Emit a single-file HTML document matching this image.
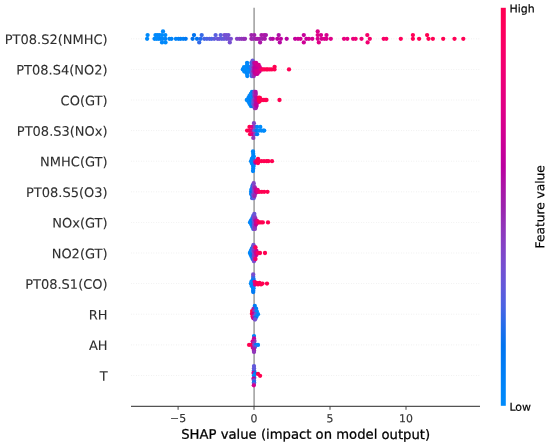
<!DOCTYPE html>
<html lang="en"><head><meta charset="utf-8"><title>SHAP summary plot</title>
<style>html,body{margin:0;padding:0;background:#fff}svg{display:block}text{font-family:"DejaVu Sans","Liberation Sans",sans-serif;text-rendering:geometricPrecision}</style></head><body>
<svg width="550" height="445" viewBox="0 0 550 445">
<defs><linearGradient id="cb" x1="0" y1="1" x2="0" y2="0">
<stop offset="0.00" stop-color="#008bfb"/>
<stop offset="0.05" stop-color="#0084f9"/>
<stop offset="0.10" stop-color="#007cf5"/>
<stop offset="0.15" stop-color="#0074f0"/>
<stop offset="0.20" stop-color="#236cea"/>
<stop offset="0.25" stop-color="#4b63e3"/>
<stop offset="0.30" stop-color="#6359da"/>
<stop offset="0.35" stop-color="#754fd1"/>
<stop offset="0.40" stop-color="#8443c6"/>
<stop offset="0.45" stop-color="#9135ba"/>
<stop offset="0.50" stop-color="#9b23ad"/>
<stop offset="0.55" stop-color="#ab15a7"/>
<stop offset="0.60" stop-color="#bb00a0"/>
<stop offset="0.65" stop-color="#c80098"/>
<stop offset="0.70" stop-color="#d5008f"/>
<stop offset="0.75" stop-color="#e00086"/>
<stop offset="0.80" stop-color="#e9007c"/>
<stop offset="0.85" stop-color="#f20072"/>
<stop offset="0.90" stop-color="#f90067"/>
<stop offset="0.95" stop-color="#fe005c"/>
<stop offset="1.00" stop-color="#ff0051"/>
</linearGradient></defs>
<rect width="550" height="445" fill="#fff"/>
<line x1="254.1" y1="7.8" x2="254.1" y2="406" stroke="#999" stroke-width="1.45"/>
<line x1="131" y1="38.8" x2="480" y2="38.8" stroke="#ccc" stroke-width="0.8" stroke-dasharray="0.7 1.8" opacity="0.5"/>
<line x1="131" y1="69.4" x2="480" y2="69.4" stroke="#ccc" stroke-width="0.8" stroke-dasharray="0.7 1.8" opacity="0.5"/>
<line x1="131" y1="100.0" x2="480" y2="100.0" stroke="#ccc" stroke-width="0.8" stroke-dasharray="0.7 1.8" opacity="0.5"/>
<line x1="131" y1="130.6" x2="480" y2="130.6" stroke="#ccc" stroke-width="0.8" stroke-dasharray="0.7 1.8" opacity="0.5"/>
<line x1="131" y1="161.2" x2="480" y2="161.2" stroke="#ccc" stroke-width="0.8" stroke-dasharray="0.7 1.8" opacity="0.5"/>
<line x1="131" y1="191.8" x2="480" y2="191.8" stroke="#ccc" stroke-width="0.8" stroke-dasharray="0.7 1.8" opacity="0.5"/>
<line x1="131" y1="222.4" x2="480" y2="222.4" stroke="#ccc" stroke-width="0.8" stroke-dasharray="0.7 1.8" opacity="0.5"/>
<line x1="131" y1="253.0" x2="480" y2="253.0" stroke="#ccc" stroke-width="0.8" stroke-dasharray="0.7 1.8" opacity="0.5"/>
<line x1="131" y1="283.6" x2="480" y2="283.6" stroke="#ccc" stroke-width="0.8" stroke-dasharray="0.7 1.8" opacity="0.5"/>
<line x1="131" y1="314.2" x2="480" y2="314.2" stroke="#ccc" stroke-width="0.8" stroke-dasharray="0.7 1.8" opacity="0.5"/>
<line x1="131" y1="344.9" x2="480" y2="344.9" stroke="#ccc" stroke-width="0.8" stroke-dasharray="0.7 1.8" opacity="0.5"/>
<line x1="131" y1="375.5" x2="480" y2="375.5" stroke="#ccc" stroke-width="0.8" stroke-dasharray="0.7 1.8" opacity="0.5"/>
<g>
<circle cx="147.6" cy="35.1" r="2.15" fill="#008bfb"/>
<circle cx="147.1" cy="38.8" r="2.15" fill="#008afb"/>
<circle cx="155.5" cy="35.1" r="2.15" fill="#008afb"/>
<circle cx="157.5" cy="35.1" r="2.15" fill="#0088fa"/>
<circle cx="159.5" cy="35.1" r="2.15" fill="#0087fa"/>
<circle cx="162.0" cy="35.1" r="2.15" fill="#008bfb"/>
<circle cx="165.3" cy="35.1" r="2.15" fill="#008bfb"/>
<circle cx="154.5" cy="38.8" r="2.15" fill="#0086fa"/>
<circle cx="156.5" cy="38.8" r="2.15" fill="#008bfb"/>
<circle cx="158.5" cy="38.8" r="2.15" fill="#008afb"/>
<circle cx="160.5" cy="38.8" r="2.15" fill="#0084f9"/>
<circle cx="162.5" cy="38.8" r="2.15" fill="#0088fa"/>
<circle cx="165.3" cy="38.8" r="2.15" fill="#0084f9"/>
<circle cx="163.0" cy="31.4" r="2.15" fill="#0088fa"/>
<circle cx="162.0" cy="42.4" r="2.15" fill="#0086fa"/>
<circle cx="165.5" cy="42.4" r="2.15" fill="#008afb"/>
<circle cx="169.4" cy="38.8" r="2.15" fill="#0085f9"/>
<circle cx="171.5" cy="38.8" r="2.15" fill="#0083f8"/>
<circle cx="175.9" cy="38.8" r="2.15" fill="#0084f9"/>
<circle cx="178.5" cy="38.8" r="2.15" fill="#0080f7"/>
<circle cx="180.6" cy="38.8" r="2.15" fill="#007ef6"/>
<circle cx="183.2" cy="38.8" r="2.15" fill="#0081f7"/>
<circle cx="185.7" cy="38.8" r="2.15" fill="#0078f3"/>
<circle cx="192.6" cy="38.8" r="2.15" fill="#0073ef"/>
<circle cx="194.0" cy="35.1" r="2.15" fill="#0074f0"/>
<circle cx="197.0" cy="38.8" r="2.15" fill="#0074f0"/>
<circle cx="199.2" cy="42.4" r="2.15" fill="#326ae8"/>
<circle cx="200.6" cy="38.8" r="2.15" fill="#216ceb"/>
<circle cx="201.7" cy="35.1" r="2.15" fill="#3669e8"/>
<circle cx="204.3" cy="38.8" r="2.15" fill="#4664e4"/>
<circle cx="206.9" cy="38.8" r="2.15" fill="#4964e4"/>
<circle cx="209.5" cy="38.8" r="2.15" fill="#575fdf"/>
<circle cx="211.6" cy="38.8" r="2.15" fill="#4c63e3"/>
<circle cx="214.2" cy="38.8" r="2.15" fill="#5f5bdc"/>
<circle cx="215.6" cy="35.1" r="2.15" fill="#585edf"/>
<circle cx="217.5" cy="38.8" r="2.15" fill="#6956d7"/>
<circle cx="219.3" cy="38.8" r="2.15" fill="#6b55d6"/>
<circle cx="220.7" cy="35.1" r="2.15" fill="#5b5ddd"/>
<circle cx="221.8" cy="38.8" r="2.15" fill="#5f5bdc"/>
<circle cx="224.0" cy="38.8" r="2.15" fill="#6658d9"/>
<circle cx="224.4" cy="35.1" r="2.15" fill="#774ed0"/>
<circle cx="226.5" cy="38.8" r="2.15" fill="#7052d4"/>
<circle cx="226.2" cy="35.1" r="2.15" fill="#7350d2"/>
<circle cx="228.4" cy="35.1" r="2.15" fill="#7151d3"/>
<circle cx="228.7" cy="38.8" r="2.15" fill="#764ed0"/>
<circle cx="229.8" cy="42.4" r="2.15" fill="#754ed0"/>
<circle cx="230.9" cy="38.8" r="2.15" fill="#774dcf"/>
<circle cx="237.0" cy="38.8" r="2.15" fill="#8641c4"/>
<circle cx="239.3" cy="38.8" r="2.15" fill="#893ec1"/>
<circle cx="241.5" cy="38.8" r="2.15" fill="#9134b9"/>
<circle cx="243.5" cy="38.8" r="2.15" fill="#9035ba"/>
<circle cx="245.0" cy="38.8" r="2.15" fill="#962db4"/>
<circle cx="251.4" cy="35.1" r="2.15" fill="#9d22ac"/>
<circle cx="251.4" cy="38.8" r="2.15" fill="#a020ab"/>
<circle cx="254.3" cy="35.1" r="2.15" fill="#9f20ab"/>
<circle cx="253.2" cy="38.8" r="2.15" fill="#962db3"/>
<circle cx="256.1" cy="38.8" r="2.15" fill="#a51ca9"/>
<circle cx="257.9" cy="38.8" r="2.15" fill="#a918a8"/>
<circle cx="260.1" cy="42.4" r="2.15" fill="#aa17a7"/>
<circle cx="259.7" cy="38.8" r="2.15" fill="#a31daa"/>
<circle cx="261.5" cy="35.1" r="2.15" fill="#a819a8"/>
<circle cx="262.3" cy="38.8" r="2.15" fill="#9e21ac"/>
<circle cx="264.1" cy="35.1" r="2.15" fill="#ad14a6"/>
<circle cx="264.8" cy="38.8" r="2.15" fill="#a818a8"/>
<circle cx="265.9" cy="35.1" r="2.15" fill="#a41caa"/>
<circle cx="270.6" cy="38.8" r="2.15" fill="#a51ca9"/>
<circle cx="272.8" cy="38.8" r="2.15" fill="#b605a2"/>
<circle cx="277.3" cy="38.8" r="2.15" fill="#bd009e"/>
<circle cx="278.7" cy="35.1" r="2.15" fill="#ae12a6"/>
<circle cx="280.9" cy="38.8" r="2.15" fill="#bd009e"/>
<circle cx="279.8" cy="42.4" r="2.15" fill="#b507a2"/>
<circle cx="286.7" cy="38.8" r="2.15" fill="#b703a1"/>
<circle cx="295.1" cy="38.8" r="2.15" fill="#c1009c"/>
<circle cx="298.0" cy="38.8" r="2.15" fill="#cc0096"/>
<circle cx="300.5" cy="38.8" r="2.15" fill="#cf0093"/>
<circle cx="303.8" cy="35.1" r="2.15" fill="#c5009a"/>
<circle cx="303.8" cy="42.4" r="2.15" fill="#ce0094"/>
<circle cx="306.4" cy="38.8" r="2.15" fill="#c70098"/>
<circle cx="308.9" cy="38.8" r="2.15" fill="#d30090"/>
<circle cx="312.3" cy="38.8" r="2.15" fill="#d00092"/>
<circle cx="317.7" cy="31.4" r="2.15" fill="#dc0089"/>
<circle cx="317.7" cy="35.1" r="2.15" fill="#dd0088"/>
<circle cx="317.7" cy="38.8" r="2.15" fill="#d7008d"/>
<circle cx="318.8" cy="42.4" r="2.15" fill="#de0087"/>
<circle cx="321.0" cy="35.1" r="2.15" fill="#d6008e"/>
<circle cx="321.7" cy="38.8" r="2.15" fill="#d30090"/>
<circle cx="324.3" cy="38.8" r="2.15" fill="#dc0089"/>
<circle cx="326.5" cy="35.1" r="2.15" fill="#d6008e"/>
<circle cx="326.5" cy="38.8" r="2.15" fill="#d8008c"/>
<circle cx="330.8" cy="38.8" r="2.15" fill="#de0087"/>
<circle cx="344.0" cy="38.8" r="2.15" fill="#e8007d"/>
<circle cx="347.3" cy="38.8" r="2.15" fill="#e50081"/>
<circle cx="353.1" cy="38.8" r="2.15" fill="#e7007f"/>
<circle cx="355.6" cy="38.8" r="2.15" fill="#f10073"/>
<circle cx="361.5" cy="38.8" r="2.15" fill="#ee0076"/>
<circle cx="367.3" cy="35.1" r="2.15" fill="#f6006b"/>
<circle cx="369.8" cy="38.8" r="2.15" fill="#f7006a"/>
<circle cx="367.6" cy="42.4" r="2.15" fill="#f10072"/>
<circle cx="383.7" cy="38.8" r="2.15" fill="#f90067"/>
<circle cx="386.3" cy="38.8" r="2.15" fill="#fa0065"/>
<circle cx="400.8" cy="38.8" r="2.15" fill="#ff005a"/>
<circle cx="412.9" cy="35.1" r="2.15" fill="#ff0057"/>
<circle cx="412.9" cy="38.8" r="2.15" fill="#ff0058"/>
<circle cx="419.1" cy="38.8" r="2.15" fill="#ff0055"/>
<circle cx="427.1" cy="35.1" r="2.15" fill="#ff0051"/>
<circle cx="428.5" cy="38.8" r="2.15" fill="#ff0054"/>
<circle cx="432.9" cy="38.8" r="2.15" fill="#ff0054"/>
<circle cx="443.2" cy="38.8" r="2.15" fill="#ff0051"/>
<circle cx="454.5" cy="38.8" r="2.15" fill="#ff0055"/>
<circle cx="463.3" cy="38.8" r="2.15" fill="#ff0054"/>
<circle cx="242.8" cy="69.4" r="2.15" fill="#008afb"/>
<circle cx="244.3" cy="71.6" r="2.15" fill="#008bfb"/>
<circle cx="244.2" cy="69.4" r="2.15" fill="#0088fa"/>
<circle cx="244.0" cy="67.2" r="2.15" fill="#0088fa"/>
<circle cx="245.9" cy="71.6" r="2.15" fill="#008bfb"/>
<circle cx="245.9" cy="69.4" r="2.15" fill="#0089fa"/>
<circle cx="245.9" cy="67.2" r="2.15" fill="#008bfb"/>
<circle cx="247.3" cy="76.0" r="2.15" fill="#0085f9"/>
<circle cx="246.9" cy="73.8" r="2.15" fill="#008bfb"/>
<circle cx="247.3" cy="71.6" r="2.15" fill="#0082f8"/>
<circle cx="247.1" cy="69.4" r="2.15" fill="#0089fa"/>
<circle cx="247.3" cy="67.2" r="2.15" fill="#008bfb"/>
<circle cx="247.1" cy="65.0" r="2.15" fill="#008bfb"/>
<circle cx="247.1" cy="62.8" r="2.15" fill="#0087fa"/>
<circle cx="248.5" cy="71.6" r="2.15" fill="#0089fa"/>
<circle cx="248.8" cy="69.4" r="2.15" fill="#008bfb"/>
<circle cx="248.6" cy="67.2" r="2.15" fill="#0084f9"/>
<circle cx="250.3" cy="71.6" r="2.15" fill="#008afb"/>
<circle cx="250.6" cy="69.4" r="2.15" fill="#008afb"/>
<circle cx="250.2" cy="67.2" r="2.15" fill="#0087fa"/>
<circle cx="251.7" cy="76.0" r="2.15" fill="#2e6ae9"/>
<circle cx="251.5" cy="73.8" r="2.15" fill="#4166e6"/>
<circle cx="251.8" cy="71.6" r="2.15" fill="#4764e4"/>
<circle cx="251.8" cy="69.4" r="2.15" fill="#3469e8"/>
<circle cx="251.5" cy="67.2" r="2.15" fill="#5360e1"/>
<circle cx="251.8" cy="65.0" r="2.15" fill="#4864e4"/>
<circle cx="251.4" cy="62.8" r="2.15" fill="#306ae9"/>
<circle cx="252.7" cy="76.0" r="2.15" fill="#5e5cdc"/>
<circle cx="252.8" cy="73.8" r="2.15" fill="#764ed0"/>
<circle cx="252.5" cy="71.6" r="2.15" fill="#625adb"/>
<circle cx="252.8" cy="69.4" r="2.15" fill="#7052d4"/>
<circle cx="252.8" cy="67.2" r="2.15" fill="#6458da"/>
<circle cx="252.4" cy="65.0" r="2.15" fill="#6259db"/>
<circle cx="252.8" cy="62.8" r="2.15" fill="#615adb"/>
<circle cx="252.6" cy="60.6" r="2.15" fill="#6757d8"/>
<circle cx="253.8" cy="76.0" r="2.15" fill="#952eb4"/>
<circle cx="254.1" cy="73.8" r="2.15" fill="#9036bb"/>
<circle cx="253.5" cy="71.6" r="2.15" fill="#a31daa"/>
<circle cx="254.0" cy="69.4" r="2.15" fill="#a51ca9"/>
<circle cx="253.8" cy="67.2" r="2.15" fill="#a31daa"/>
<circle cx="254.1" cy="65.0" r="2.15" fill="#9134b9"/>
<circle cx="253.9" cy="62.8" r="2.15" fill="#a020ab"/>
<circle cx="255.1" cy="73.8" r="2.15" fill="#c1009c"/>
<circle cx="254.9" cy="71.6" r="2.15" fill="#bc009f"/>
<circle cx="254.8" cy="69.4" r="2.15" fill="#b409a3"/>
<circle cx="255.1" cy="67.2" r="2.15" fill="#ba00a0"/>
<circle cx="255.2" cy="65.0" r="2.15" fill="#b30ba3"/>
<circle cx="255.2" cy="62.8" r="2.15" fill="#c50099"/>
<circle cx="256.5" cy="73.8" r="2.15" fill="#d00093"/>
<circle cx="256.4" cy="71.6" r="2.15" fill="#c80098"/>
<circle cx="255.9" cy="69.4" r="2.15" fill="#cc0095"/>
<circle cx="256.0" cy="67.2" r="2.15" fill="#c0009c"/>
<circle cx="256.3" cy="65.0" r="2.15" fill="#c60099"/>
<circle cx="256.1" cy="62.8" r="2.15" fill="#d10092"/>
<circle cx="257.5" cy="73.8" r="2.15" fill="#c70099"/>
<circle cx="257.3" cy="71.6" r="2.15" fill="#d40090"/>
<circle cx="257.4" cy="69.4" r="2.15" fill="#d20091"/>
<circle cx="257.3" cy="67.2" r="2.15" fill="#c3009b"/>
<circle cx="257.4" cy="65.0" r="2.15" fill="#d30090"/>
<circle cx="258.4" cy="71.6" r="2.15" fill="#d7008d"/>
<circle cx="258.9" cy="69.4" r="2.15" fill="#d7008d"/>
<circle cx="258.8" cy="67.2" r="2.15" fill="#c3009b"/>
<circle cx="258.7" cy="65.0" r="2.15" fill="#d8008c"/>
<circle cx="259.5" cy="71.6" r="2.15" fill="#cf0093"/>
<circle cx="259.7" cy="69.4" r="2.15" fill="#d5008f"/>
<circle cx="259.8" cy="67.2" r="2.15" fill="#d4008f"/>
<circle cx="261.5" cy="69.4" r="2.15" fill="#f90067"/>
<circle cx="262.7" cy="69.4" r="2.15" fill="#ff0059"/>
<circle cx="264.3" cy="69.4" r="2.15" fill="#ff005b"/>
<circle cx="266.3" cy="69.4" r="2.15" fill="#ff0051"/>
<circle cx="267.8" cy="69.4" r="2.15" fill="#ff0051"/>
<circle cx="269.9" cy="69.4" r="2.15" fill="#ff0055"/>
<circle cx="271.9" cy="69.4" r="2.15" fill="#ff0051"/>
<circle cx="274.5" cy="69.4" r="2.15" fill="#ff0054"/>
<circle cx="289.0" cy="69.4" r="2.15" fill="#ff0055"/>
<circle cx="274.6" cy="66.8" r="2.15" fill="#ff0051"/>
<circle cx="246.8" cy="100.0" r="2.15" fill="#008afa"/>
<circle cx="248.7" cy="102.0" r="2.15" fill="#008bfb"/>
<circle cx="248.3" cy="100.0" r="2.15" fill="#008bfb"/>
<circle cx="248.5" cy="98.0" r="2.15" fill="#0087fa"/>
<circle cx="249.7" cy="104.0" r="2.15" fill="#008bfb"/>
<circle cx="249.7" cy="102.0" r="2.15" fill="#0086f9"/>
<circle cx="249.5" cy="100.0" r="2.15" fill="#008bfb"/>
<circle cx="249.5" cy="98.0" r="2.15" fill="#0084f9"/>
<circle cx="249.5" cy="96.0" r="2.15" fill="#0085f9"/>
<circle cx="250.9" cy="106.0" r="2.15" fill="#008bfb"/>
<circle cx="250.9" cy="104.0" r="2.15" fill="#0083f8"/>
<circle cx="250.6" cy="102.0" r="2.15" fill="#0088fa"/>
<circle cx="250.9" cy="100.0" r="2.15" fill="#007ff7"/>
<circle cx="251.2" cy="98.0" r="2.15" fill="#0089fa"/>
<circle cx="251.1" cy="96.0" r="2.15" fill="#0081f8"/>
<circle cx="250.8" cy="94.0" r="2.15" fill="#0088fa"/>
<circle cx="252.0" cy="106.0" r="2.15" fill="#007cf5"/>
<circle cx="252.3" cy="104.0" r="2.15" fill="#007af4"/>
<circle cx="252.4" cy="102.0" r="2.15" fill="#007ff6"/>
<circle cx="252.3" cy="100.0" r="2.15" fill="#0081f7"/>
<circle cx="252.0" cy="98.0" r="2.15" fill="#0080f7"/>
<circle cx="251.9" cy="96.0" r="2.15" fill="#0089fa"/>
<circle cx="252.4" cy="94.0" r="2.15" fill="#008bfb"/>
<circle cx="252.0" cy="92.0" r="2.15" fill="#008afb"/>
<circle cx="253.6" cy="106.0" r="2.15" fill="#0070ed"/>
<circle cx="253.1" cy="104.0" r="2.15" fill="#5460e0"/>
<circle cx="253.2" cy="102.0" r="2.15" fill="#5460e0"/>
<circle cx="253.5" cy="100.0" r="2.15" fill="#5460e0"/>
<circle cx="253.7" cy="98.0" r="2.15" fill="#3f67e6"/>
<circle cx="253.6" cy="96.0" r="2.15" fill="#0074f0"/>
<circle cx="253.6" cy="94.0" r="2.15" fill="#3868e7"/>
<circle cx="253.5" cy="92.0" r="2.15" fill="#0072ef"/>
<circle cx="254.7" cy="108.0" r="2.15" fill="#9331b7"/>
<circle cx="254.3" cy="106.0" r="2.15" fill="#7d49cb"/>
<circle cx="254.6" cy="104.0" r="2.15" fill="#9036bb"/>
<circle cx="254.4" cy="102.0" r="2.15" fill="#774dd0"/>
<circle cx="254.4" cy="100.0" r="2.15" fill="#883ec2"/>
<circle cx="254.8" cy="98.0" r="2.15" fill="#8046c9"/>
<circle cx="254.5" cy="96.0" r="2.15" fill="#8046c9"/>
<circle cx="254.5" cy="94.0" r="2.15" fill="#8146c8"/>
<circle cx="254.3" cy="92.0" r="2.15" fill="#8443c6"/>
<circle cx="255.9" cy="108.0" r="2.15" fill="#a11fab"/>
<circle cx="255.7" cy="106.0" r="2.15" fill="#972ab1"/>
<circle cx="255.7" cy="104.0" r="2.15" fill="#b00fa4"/>
<circle cx="255.7" cy="102.0" r="2.15" fill="#a61ba9"/>
<circle cx="255.6" cy="100.0" r="2.15" fill="#ab15a7"/>
<circle cx="255.8" cy="98.0" r="2.15" fill="#972ab2"/>
<circle cx="255.4" cy="96.0" r="2.15" fill="#b010a5"/>
<circle cx="255.8" cy="94.0" r="2.15" fill="#a61ba9"/>
<circle cx="255.6" cy="92.0" r="2.15" fill="#af11a5"/>
<circle cx="256.6" cy="106.0" r="2.15" fill="#b703a1"/>
<circle cx="256.6" cy="104.0" r="2.15" fill="#c3009b"/>
<circle cx="256.7" cy="102.0" r="2.15" fill="#b506a2"/>
<circle cx="256.9" cy="100.0" r="2.15" fill="#d10092"/>
<circle cx="256.7" cy="98.0" r="2.15" fill="#c80098"/>
<circle cx="258.3" cy="102.0" r="2.15" fill="#cd0094"/>
<circle cx="258.5" cy="100.0" r="2.15" fill="#b704a1"/>
<circle cx="259.0" cy="97.7" r="2.15" fill="#ff0051"/>
<circle cx="260.0" cy="98.0" r="2.15" fill="#ff0051"/>
<circle cx="258.8" cy="100.0" r="2.15" fill="#ff0051"/>
<circle cx="260.2" cy="100.0" r="2.15" fill="#ff0051"/>
<circle cx="259.5" cy="101.5" r="2.15" fill="#ff0051"/>
<circle cx="262.0" cy="100.0" r="2.15" fill="#ff0051"/>
<circle cx="263.8" cy="100.0" r="2.15" fill="#ff0051"/>
<circle cx="265.2" cy="100.0" r="2.15" fill="#ff0051"/>
<circle cx="266.5" cy="100.0" r="2.15" fill="#ff0051"/>
<circle cx="279.5" cy="100.0" r="2.15" fill="#ff0051"/>
<circle cx="253.9" cy="123.2" r="2.15" fill="#8443c6"/>
<circle cx="249.5" cy="126.9" r="2.15" fill="#ff0051"/>
<circle cx="252.3" cy="126.9" r="2.15" fill="#d5008f"/>
<circle cx="254.9" cy="126.9" r="2.15" fill="#8443c6"/>
<circle cx="257.1" cy="126.9" r="2.15" fill="#0084f9"/>
<circle cx="260.3" cy="126.9" r="2.15" fill="#008bfb"/>
<circle cx="247.1" cy="130.6" r="2.15" fill="#ff0051"/>
<circle cx="249.3" cy="130.6" r="2.15" fill="#ff0051"/>
<circle cx="251.7" cy="130.6" r="2.15" fill="#e00086"/>
<circle cx="254.2" cy="130.6" r="2.15" fill="#6359da"/>
<circle cx="256.5" cy="130.6" r="2.15" fill="#007cf5"/>
<circle cx="259.0" cy="130.6" r="2.15" fill="#008bfb"/>
<circle cx="261.4" cy="130.6" r="2.15" fill="#008bfb"/>
<circle cx="263.4" cy="130.6" r="2.15" fill="#008bfb"/>
<circle cx="264.2" cy="130.6" r="2.15" fill="#008bfb"/>
<circle cx="250.1" cy="134.2" r="2.15" fill="#ff0051"/>
<circle cx="252.6" cy="134.2" r="2.15" fill="#d5008f"/>
<circle cx="255.2" cy="134.2" r="2.15" fill="#8443c6"/>
<circle cx="257.1" cy="134.2" r="2.15" fill="#007cf5"/>
<circle cx="253.3" cy="137.9" r="2.15" fill="#9135ba"/>
<circle cx="251.0" cy="161.2" r="2.15" fill="#008afb"/>
<circle cx="252.0" cy="163.6" r="2.15" fill="#0088fa"/>
<circle cx="251.8" cy="161.2" r="2.15" fill="#0089fa"/>
<circle cx="251.9" cy="158.7" r="2.15" fill="#0086fa"/>
<circle cx="253.0" cy="171.0" r="2.15" fill="#0085f9"/>
<circle cx="253.2" cy="168.5" r="2.15" fill="#0087fa"/>
<circle cx="253.2" cy="166.1" r="2.15" fill="#0086f9"/>
<circle cx="253.4" cy="163.6" r="2.15" fill="#0088fa"/>
<circle cx="253.2" cy="161.2" r="2.15" fill="#0087fa"/>
<circle cx="253.4" cy="158.7" r="2.15" fill="#0088fa"/>
<circle cx="253.3" cy="156.3" r="2.15" fill="#0085f9"/>
<circle cx="253.2" cy="153.8" r="2.15" fill="#0089fa"/>
<circle cx="253.0" cy="151.4" r="2.15" fill="#0087fa"/>
<circle cx="253.5" cy="166.1" r="2.15" fill="#0085f9"/>
<circle cx="253.6" cy="163.6" r="2.15" fill="#0089fa"/>
<circle cx="253.2" cy="161.2" r="2.15" fill="#0089fa"/>
<circle cx="253.2" cy="158.7" r="2.15" fill="#0087fa"/>
<circle cx="253.6" cy="156.3" r="2.15" fill="#0086f9"/>
<circle cx="255.0" cy="161.2" r="2.15" fill="#9135ba"/>
<circle cx="255.5" cy="162.7" r="2.15" fill="#bb00a0"/>
<circle cx="256.7" cy="161.2" r="2.15" fill="#ff0051"/>
<circle cx="258.0" cy="158.8" r="2.15" fill="#ff0051"/>
<circle cx="258.0" cy="163.0" r="2.15" fill="#ff0051"/>
<circle cx="258.6" cy="161.2" r="2.15" fill="#ff0051"/>
<circle cx="261.3" cy="161.2" r="2.15" fill="#ff0051"/>
<circle cx="264.0" cy="161.2" r="2.15" fill="#ff0051"/>
<circle cx="266.7" cy="161.2" r="2.15" fill="#ff0051"/>
<circle cx="268.3" cy="161.2" r="2.15" fill="#ff0051"/>
<circle cx="272.0" cy="161.2" r="2.15" fill="#ff0051"/>
<circle cx="251.1" cy="194.0" r="2.15" fill="#007ef6"/>
<circle cx="251.1" cy="191.8" r="2.15" fill="#0086f9"/>
<circle cx="251.3" cy="189.7" r="2.15" fill="#008bfb"/>
<circle cx="252.2" cy="198.2" r="2.15" fill="#4565e5"/>
<circle cx="252.3" cy="196.1" r="2.15" fill="#026fed"/>
<circle cx="252.4" cy="194.0" r="2.15" fill="#3868e7"/>
<circle cx="252.1" cy="191.8" r="2.15" fill="#006fed"/>
<circle cx="252.4" cy="189.7" r="2.15" fill="#216ceb"/>
<circle cx="252.2" cy="187.5" r="2.15" fill="#2e6ae9"/>
<circle cx="252.7" cy="185.4" r="2.15" fill="#0c6eec"/>
<circle cx="253.6" cy="198.2" r="2.15" fill="#6458da"/>
<circle cx="253.5" cy="196.1" r="2.15" fill="#7b4acc"/>
<circle cx="253.4" cy="194.0" r="2.15" fill="#8344c7"/>
<circle cx="253.8" cy="191.8" r="2.15" fill="#6359da"/>
<circle cx="253.9" cy="189.7" r="2.15" fill="#7052d4"/>
<circle cx="253.8" cy="187.5" r="2.15" fill="#7f47ca"/>
<circle cx="253.5" cy="185.4" r="2.15" fill="#7c4acc"/>
<circle cx="253.7" cy="183.2" r="2.15" fill="#8046c9"/>
<circle cx="254.6" cy="196.1" r="2.15" fill="#9b24ad"/>
<circle cx="255.0" cy="194.0" r="2.15" fill="#9928b0"/>
<circle cx="254.7" cy="191.8" r="2.15" fill="#8a3dc1"/>
<circle cx="254.7" cy="189.7" r="2.15" fill="#9135ba"/>
<circle cx="254.8" cy="187.5" r="2.15" fill="#9927b0"/>
<circle cx="255.9" cy="191.8" r="2.15" fill="#be009e"/>
<circle cx="256.0" cy="189.7" r="2.15" fill="#cc0095"/>
<circle cx="257.6" cy="189.8" r="2.15" fill="#e60080"/>
<circle cx="257.6" cy="192.0" r="2.15" fill="#e00086"/>
<circle cx="259.6" cy="191.8" r="2.15" fill="#fc0061"/>
<circle cx="261.8" cy="191.8" r="2.15" fill="#ff0051"/>
<circle cx="264.2" cy="191.8" r="2.15" fill="#ff0051"/>
<circle cx="267.5" cy="191.8" r="2.15" fill="#ff0051"/>
<circle cx="250.0" cy="222.4" r="2.15" fill="#0084f9"/>
<circle cx="251.3" cy="224.6" r="2.15" fill="#008bfb"/>
<circle cx="251.5" cy="222.4" r="2.15" fill="#008bfb"/>
<circle cx="251.1" cy="220.3" r="2.15" fill="#0084f9"/>
<circle cx="252.3" cy="226.7" r="2.15" fill="#007ef6"/>
<circle cx="252.3" cy="224.6" r="2.15" fill="#0080f7"/>
<circle cx="252.1" cy="222.4" r="2.15" fill="#0085f9"/>
<circle cx="251.9" cy="220.3" r="2.15" fill="#007bf5"/>
<circle cx="252.4" cy="218.1" r="2.15" fill="#007ff6"/>
<circle cx="253.3" cy="228.9" r="2.15" fill="#276cea"/>
<circle cx="253.1" cy="226.7" r="2.15" fill="#2a6be9"/>
<circle cx="253.4" cy="224.6" r="2.15" fill="#0072ef"/>
<circle cx="253.2" cy="222.4" r="2.15" fill="#136eec"/>
<circle cx="253.4" cy="220.3" r="2.15" fill="#276cea"/>
<circle cx="253.1" cy="218.1" r="2.15" fill="#2d6be9"/>
<circle cx="253.2" cy="216.0" r="2.15" fill="#4c63e3"/>
<circle cx="254.1" cy="228.9" r="2.15" fill="#8442c5"/>
<circle cx="254.0" cy="226.7" r="2.15" fill="#6f52d4"/>
<circle cx="254.0" cy="224.6" r="2.15" fill="#6857d8"/>
<circle cx="254.4" cy="222.4" r="2.15" fill="#8046c9"/>
<circle cx="254.0" cy="220.3" r="2.15" fill="#6c55d6"/>
<circle cx="254.1" cy="218.1" r="2.15" fill="#8145c8"/>
<circle cx="254.4" cy="216.0" r="2.15" fill="#8145c8"/>
<circle cx="254.3" cy="213.8" r="2.15" fill="#6a56d7"/>
<circle cx="254.9" cy="228.9" r="2.15" fill="#883fc3"/>
<circle cx="255.0" cy="226.7" r="2.15" fill="#9232b8"/>
<circle cx="254.8" cy="224.6" r="2.15" fill="#893dc1"/>
<circle cx="255.2" cy="222.4" r="2.15" fill="#8244c7"/>
<circle cx="255.2" cy="220.3" r="2.15" fill="#9a24ae"/>
<circle cx="255.3" cy="218.1" r="2.15" fill="#8d39bd"/>
<circle cx="256.0" cy="224.6" r="2.15" fill="#bd009e"/>
<circle cx="256.1" cy="222.4" r="2.15" fill="#ca0096"/>
<circle cx="256.1" cy="220.3" r="2.15" fill="#b30aa3"/>
<circle cx="257.4" cy="221.1" r="2.15" fill="#f20072"/>
<circle cx="257.6" cy="222.7" r="2.15" fill="#e9007c"/>
<circle cx="259.2" cy="222.4" r="2.15" fill="#ff0051"/>
<circle cx="261.0" cy="222.4" r="2.15" fill="#ff0051"/>
<circle cx="262.8" cy="222.4" r="2.15" fill="#ff0051"/>
<circle cx="268.0" cy="222.4" r="2.15" fill="#ff0051"/>
<circle cx="249.9" cy="253.0" r="2.15" fill="#008afb"/>
<circle cx="250.8" cy="255.1" r="2.15" fill="#0085f9"/>
<circle cx="250.4" cy="253.0" r="2.15" fill="#0084f9"/>
<circle cx="250.8" cy="251.0" r="2.15" fill="#0088fa"/>
<circle cx="251.7" cy="257.1" r="2.15" fill="#0087fa"/>
<circle cx="251.5" cy="255.1" r="2.15" fill="#0086fa"/>
<circle cx="251.4" cy="253.0" r="2.15" fill="#0087fa"/>
<circle cx="251.8" cy="251.0" r="2.15" fill="#0088fa"/>
<circle cx="251.7" cy="248.9" r="2.15" fill="#0080f7"/>
<circle cx="252.9" cy="259.2" r="2.15" fill="#0072ef"/>
<circle cx="252.9" cy="257.1" r="2.15" fill="#316ae9"/>
<circle cx="252.4" cy="255.1" r="2.15" fill="#0a6eec"/>
<circle cx="252.5" cy="253.0" r="2.15" fill="#0073ef"/>
<circle cx="252.7" cy="251.0" r="2.15" fill="#4764e4"/>
<circle cx="252.6" cy="248.9" r="2.15" fill="#4365e5"/>
<circle cx="252.8" cy="246.9" r="2.15" fill="#0072ef"/>
<circle cx="253.9" cy="261.2" r="2.15" fill="#784ccf"/>
<circle cx="254.0" cy="259.2" r="2.15" fill="#7c4acc"/>
<circle cx="253.8" cy="257.1" r="2.15" fill="#7052d4"/>
<circle cx="253.9" cy="255.1" r="2.15" fill="#8244c7"/>
<circle cx="253.9" cy="253.0" r="2.15" fill="#7350d2"/>
<circle cx="253.9" cy="251.0" r="2.15" fill="#754fd1"/>
<circle cx="253.5" cy="248.9" r="2.15" fill="#6458da"/>
<circle cx="253.4" cy="246.9" r="2.15" fill="#6b55d7"/>
<circle cx="253.5" cy="244.8" r="2.15" fill="#754fd1"/>
<circle cx="254.8" cy="259.2" r="2.15" fill="#9134b9"/>
<circle cx="254.7" cy="257.1" r="2.15" fill="#9430b6"/>
<circle cx="254.6" cy="255.1" r="2.15" fill="#9036bb"/>
<circle cx="254.9" cy="253.0" r="2.15" fill="#8e38bc"/>
<circle cx="254.5" cy="251.0" r="2.15" fill="#9927af"/>
<circle cx="254.8" cy="248.9" r="2.15" fill="#8d39bd"/>
<circle cx="254.6" cy="246.9" r="2.15" fill="#9134b9"/>
<circle cx="256.4" cy="255.1" r="2.15" fill="#ce0094"/>
<circle cx="256.0" cy="253.0" r="2.15" fill="#ce0094"/>
<circle cx="256.5" cy="251.0" r="2.15" fill="#cc0095"/>
<circle cx="255.5" cy="247.5" r="2.15" fill="#ff0058"/>
<circle cx="255.5" cy="259.0" r="2.15" fill="#f90067"/>
<circle cx="257.7" cy="253.0" r="2.15" fill="#f90067"/>
<circle cx="260.0" cy="253.0" r="2.15" fill="#ff0051"/>
<circle cx="265.0" cy="253.0" r="2.15" fill="#ff0051"/>
<circle cx="250.9" cy="283.6" r="2.15" fill="#008afa"/>
<circle cx="251.7" cy="285.9" r="2.15" fill="#008afb"/>
<circle cx="251.8" cy="283.6" r="2.15" fill="#008afb"/>
<circle cx="251.6" cy="281.3" r="2.15" fill="#008afb"/>
<circle cx="253.4" cy="288.2" r="2.15" fill="#0088fa"/>
<circle cx="253.3" cy="285.9" r="2.15" fill="#008afb"/>
<circle cx="253.6" cy="283.6" r="2.15" fill="#0088fa"/>
<circle cx="253.7" cy="281.3" r="2.15" fill="#008afb"/>
<circle cx="253.5" cy="279.0" r="2.15" fill="#0088fa"/>
<circle cx="253.2" cy="292.0" r="2.15" fill="#0079f3"/>
<circle cx="253.2" cy="290.5" r="2.15" fill="#007cf5"/>
<circle cx="253.2" cy="288.2" r="2.15" fill="#0086fa"/>
<circle cx="253.2" cy="285.9" r="2.15" fill="#0086fa"/>
<circle cx="253.2" cy="283.6" r="2.15" fill="#0086fa"/>
<circle cx="253.2" cy="281.3" r="2.15" fill="#0086fa"/>
<circle cx="253.2" cy="279.0" r="2.15" fill="#007cf5"/>
<circle cx="253.2" cy="276.7" r="2.15" fill="#3769e8"/>
<circle cx="253.2" cy="274.4" r="2.15" fill="#784ccf"/>
<circle cx="254.6" cy="281.8" r="2.15" fill="#e9007c"/>
<circle cx="255.0" cy="284.6" r="2.15" fill="#d5008f"/>
<circle cx="256.6" cy="282.8" r="2.15" fill="#ff0051"/>
<circle cx="258.0" cy="284.4" r="2.15" fill="#ff0051"/>
<circle cx="259.5" cy="282.8" r="2.15" fill="#ff0051"/>
<circle cx="261.0" cy="284.4" r="2.15" fill="#ff0051"/>
<circle cx="262.5" cy="283.6" r="2.15" fill="#ff0051"/>
<circle cx="267.0" cy="283.6" r="2.15" fill="#ff0051"/>
<circle cx="254.8" cy="306.0" r="2.15" fill="#007cf5"/>
<circle cx="253.5" cy="308.8" r="2.15" fill="#9b23ad"/>
<circle cx="256.1" cy="308.6" r="2.15" fill="#007ff7"/>
<circle cx="252.1" cy="311.1" r="2.15" fill="#ff0051"/>
<circle cx="254.3" cy="311.1" r="2.15" fill="#8443c6"/>
<circle cx="256.8" cy="311.3" r="2.15" fill="#008bfb"/>
<circle cx="251.9" cy="313.7" r="2.15" fill="#ff0051"/>
<circle cx="253.6" cy="314.0" r="2.15" fill="#bb00a0"/>
<circle cx="255.7" cy="314.2" r="2.15" fill="#6359da"/>
<circle cx="258.0" cy="314.2" r="2.15" fill="#0088fa"/>
<circle cx="252.6" cy="316.4" r="2.15" fill="#f90067"/>
<circle cx="254.3" cy="316.7" r="2.15" fill="#6359da"/>
<circle cx="256.5" cy="316.5" r="2.15" fill="#0084f9"/>
<circle cx="253.4" cy="318.3" r="2.15" fill="#c80098"/>
<circle cx="255.4" cy="318.4" r="2.15" fill="#0074f0"/>
<circle cx="255.0" cy="319.5" r="2.15" fill="#754fd1"/>
<circle cx="254.0" cy="336.1" r="2.15" fill="#0086fa"/>
<circle cx="254.0" cy="338.4" r="2.15" fill="#c80098"/>
<circle cx="254.5" cy="340.9" r="2.15" fill="#9135ba"/>
<circle cx="252.6" cy="341.4" r="2.15" fill="#d5008f"/>
<circle cx="254.0" cy="343.2" r="2.15" fill="#9135ba"/>
<circle cx="249.1" cy="344.9" r="2.15" fill="#ff0051"/>
<circle cx="251.7" cy="344.9" r="2.15" fill="#ff0051"/>
<circle cx="254.0" cy="344.9" r="2.15" fill="#8443c6"/>
<circle cx="256.0" cy="344.9" r="2.15" fill="#0079f3"/>
<circle cx="258.0" cy="344.9" r="2.15" fill="#0086fa"/>
<circle cx="252.8" cy="347.7" r="2.15" fill="#d5008f"/>
<circle cx="255.0" cy="346.9" r="2.15" fill="#4b63e3"/>
<circle cx="254.0" cy="348.6" r="2.15" fill="#9b23ad"/>
<circle cx="254.0" cy="350.5" r="2.15" fill="#ab15a7"/>
<circle cx="254.0" cy="351.9" r="2.15" fill="#9135ba"/>
<circle cx="254.0" cy="366.1" r="2.15" fill="#6359da"/>
<circle cx="254.0" cy="368.2" r="2.15" fill="#6359da"/>
<circle cx="254.0" cy="370.3" r="2.15" fill="#5a5dde"/>
<circle cx="254.2" cy="372.3" r="2.15" fill="#0074f0"/>
<circle cx="253.5" cy="372.9" r="2.15" fill="#c80098"/>
<circle cx="255.2" cy="373.5" r="2.15" fill="#007cf5"/>
<circle cx="254.0" cy="375.6" r="2.15" fill="#0088fa"/>
<circle cx="254.3" cy="377.7" r="2.15" fill="#236cea"/>
<circle cx="253.5" cy="378.7" r="2.15" fill="#bb00a0"/>
<circle cx="254.0" cy="380.5" r="2.15" fill="#6359da"/>
<circle cx="254.0" cy="382.3" r="2.15" fill="#0079f3"/>
<circle cx="254.0" cy="383.7" r="2.15" fill="#6359da"/>
<circle cx="253.8" cy="385.3" r="2.15" fill="#d5008f"/>
<circle cx="258.0" cy="373.9" r="2.15" fill="#ff0051"/>
<circle cx="260.1" cy="375.8" r="2.15" fill="#ff0051"/>
</g>
<line x1="131" y1="406.3" x2="480" y2="406.3" stroke="#2a2a2a" stroke-width="1"/>
<line x1="178.1" y1="406.3" x2="178.1" y2="409.8" stroke="#333" stroke-width="0.9"/>
<text transform="matrix(1 0.0005 0 1 0 0)" x="178.1" y="422" font-size="10.9" text-anchor="middle" fill="#333" stroke="#333" stroke-width="0.15">−5</text>
<line x1="254" y1="406.3" x2="254" y2="409.8" stroke="#333" stroke-width="0.9"/>
<text transform="matrix(1 0.0005 0 1 0 0)" x="254" y="422" font-size="10.9" text-anchor="middle" fill="#333" stroke="#333" stroke-width="0.15">0</text>
<line x1="330" y1="406.3" x2="330" y2="409.8" stroke="#333" stroke-width="0.9"/>
<text transform="matrix(1 0.0005 0 1 0 0)" x="330" y="422" font-size="10.9" text-anchor="middle" fill="#333" stroke="#333" stroke-width="0.15">5</text>
<line x1="406" y1="406.3" x2="406" y2="409.8" stroke="#333" stroke-width="0.9"/>
<text transform="matrix(1 0.0005 0 1 0 0)" x="406" y="422" font-size="10.9" text-anchor="middle" fill="#333" stroke="#333" stroke-width="0.15">10</text>
<text transform="matrix(1 0.0005 0 1 0 0)" x="305.7" y="438.7" font-size="13.2" text-anchor="middle" fill="#000" stroke="#000" stroke-width="0.25">SHAP value (impact on model output)</text>
<text transform="matrix(1 0.0005 0 1 0 0)" x="107.6" y="43.90" font-size="13" text-anchor="end" fill="#2e2e2e" stroke="#333" stroke-width="0.1">PT08.S2(NMHC)</text>
<text transform="matrix(1 0.0005 0 1 0 0)" x="107.6" y="74.51" font-size="13" text-anchor="end" fill="#2e2e2e" stroke="#333" stroke-width="0.1">PT08.S4(NO2)</text>
<text transform="matrix(1 0.0005 0 1 0 0)" x="107.6" y="105.12" font-size="13" text-anchor="end" fill="#2e2e2e" stroke="#333" stroke-width="0.1">CO(GT)</text>
<text transform="matrix(1 0.0005 0 1 0 0)" x="107.6" y="135.73" font-size="13" text-anchor="end" fill="#2e2e2e" stroke="#333" stroke-width="0.1">PT08.S3(NOx)</text>
<text transform="matrix(1 0.0005 0 1 0 0)" x="107.6" y="166.34" font-size="13" text-anchor="end" fill="#2e2e2e" stroke="#333" stroke-width="0.1">NMHC(GT)</text>
<text transform="matrix(1 0.0005 0 1 0 0)" x="107.6" y="196.95" font-size="13" text-anchor="end" fill="#2e2e2e" stroke="#333" stroke-width="0.1">PT08.S5(O3)</text>
<text transform="matrix(1 0.0005 0 1 0 0)" x="107.6" y="227.56" font-size="13" text-anchor="end" fill="#2e2e2e" stroke="#333" stroke-width="0.1">NOx(GT)</text>
<text transform="matrix(1 0.0005 0 1 0 0)" x="107.6" y="258.17" font-size="13" text-anchor="end" fill="#2e2e2e" stroke="#333" stroke-width="0.1">NO2(GT)</text>
<text transform="matrix(1 0.0005 0 1 0 0)" x="107.6" y="288.78" font-size="13" text-anchor="end" fill="#2e2e2e" stroke="#333" stroke-width="0.1">PT08.S1(CO)</text>
<text transform="matrix(1 0.0005 0 1 0 0)" x="107.6" y="319.39" font-size="13" text-anchor="end" fill="#2e2e2e" stroke="#333" stroke-width="0.1">RH</text>
<text transform="matrix(1 0.0005 0 1 0 0)" x="107.6" y="350.00" font-size="13" text-anchor="end" fill="#2e2e2e" stroke="#333" stroke-width="0.1">AH</text>
<text transform="matrix(1 0.0005 0 1 0 0)" x="107.6" y="380.61" font-size="13" text-anchor="end" fill="#2e2e2e" stroke="#333" stroke-width="0.1">T</text>
<rect x="500.8" y="7.8" width="5" height="398" fill="url(#cb)"/>
<text transform="matrix(1 0.0005 0 1 0 0)" x="509.5" y="12.3" font-size="11" fill="#000" stroke="#000" stroke-width="0.2">High</text>
<text transform="matrix(1 0.0005 0 1 0 0)" x="509.4" y="410.4" font-size="11" fill="#000" stroke="#000" stroke-width="0.2">Low</text>
<text transform="translate(544.3,206.8) rotate(-90) matrix(1 0.0005 0 1 0 0)" font-size="12.2" text-anchor="middle" fill="#000" stroke="#000" stroke-width="0.2">Feature value</text>
</svg></body></html>
